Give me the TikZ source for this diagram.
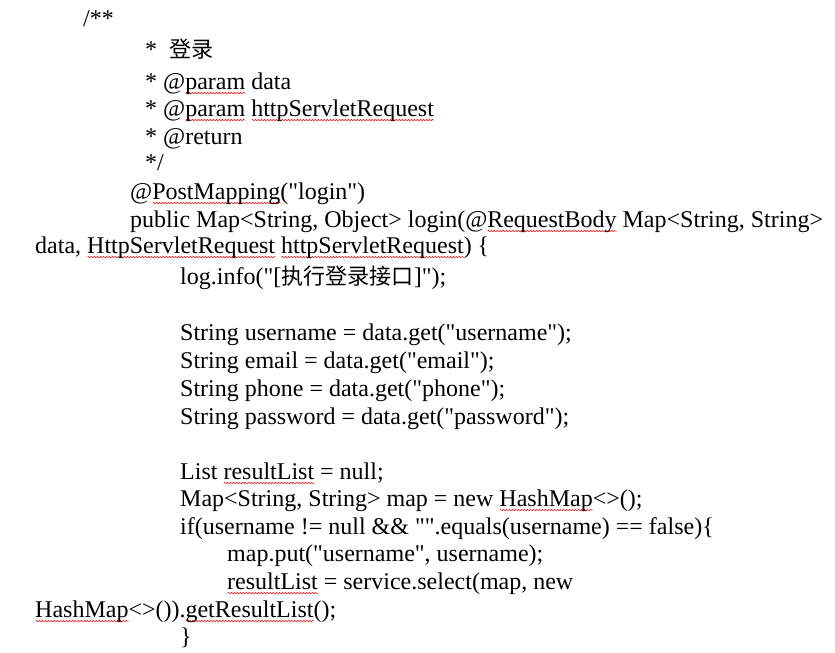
\documentclass[tikz,border=0pt]{standalone}
\usepackage{fontspec}
\setmainfont{Liberation Serif}[Ligatures=TeXOff]
\newfontfamily\cjk{Noto Sans CJK SC}[Scale=0.92]
\usetikzlibrary{decorations.pathmorphing}
\newsavebox\rwbox
\newlength\rwlen
\newcommand\rw[1]{\sbox\rwbox{#1}\setlength\rwlen{\wd\rwbox}\rlap{\raisebox{-5pt}{\tikz[x=1cm,y=1cm]\draw[red,line width=0.5pt,decorate,decoration={snake,amplitude=0.7pt,segment length=3pt}] (0,0)--(\rwlen,0);}}\usebox\rwbox}
\begin{document}
\begin{tikzpicture}[x=1pt,y=-1pt,
  t/.style={anchor=base west,inner sep=0pt,font=\fontsize{24}{28}\selectfont}]
\useasboundingbox (0,0) rectangle (835,653);
\node[t] (l1) at (83,27) {/**};
\node[t] (l2) at (145,57) {*\ \ {\cjk 登录}};
\node[t] (l3) at (145,89) {* @\rw{param} data};
\node[t] (l4) at (145,116) {* @\rw{param} \rw{httpServletRequest}};
\node[t] (l5) at (145,144) {* @return};
\node[t] (l6) at (145,170) {*/};
\node[t] (l7) at (130,199) {@\rw{PostMapping}("login")};
\node[t] (l8) at (130,227) {public Map<String, Object> login(@\rw{RequestBody} Map<String, String>};
\node[t] (l9) at (35,253) {data, \rw{HttpServletRequest} \rw{httpServletRequest}) \{};
\node[t] (l10) at (180,284) {log.info("[{\cjk 执行登录接口}]");};
\node[t] (l11) at (180,340) {String username = data.get("username");};
\node[t] (l12) at (180,368) {String email = data.get("email");};
\node[t] (l13) at (180,396) {String phone = data.get("phone");};
\node[t] (l14) at (180,424) {String password = data.get("password");};
\node[t] (l15) at (180,479) {List \rw{resultList} = null;};
\node[t] (l16) at (180,506) {Map<String, String> map = new \rw{HashMap}<>();};
\node[t] (l17) at (180,534) {if(username != null \&\& "".equals(username) == false)\{};
\node[t] (l18) at (227,561) {map.put("username", username);};
\node[t] (l19) at (227,589) {\rw{resultList} = service.select(map, new};
\node[t] (l20) at (35,617) {\rw{HashMap}<>()).\rw{getResultList}();};
\node[t] (l21) at (180,644) {\}};
\end{tikzpicture}
\end{document}
